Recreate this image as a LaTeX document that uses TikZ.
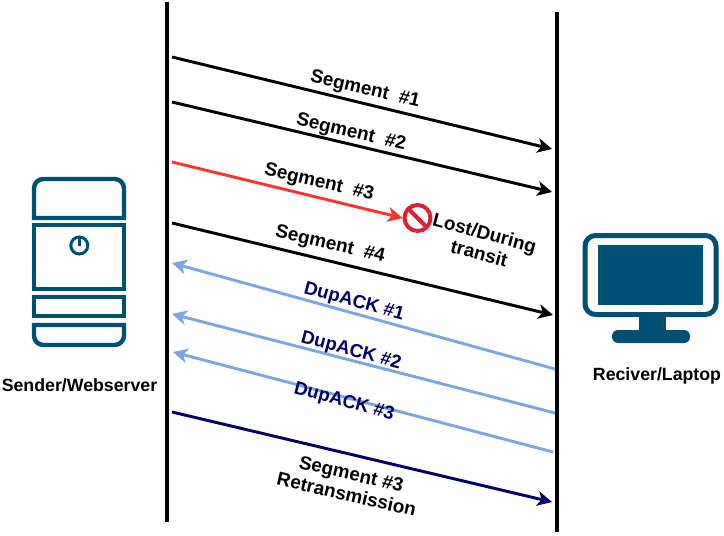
\documentclass[tikz,border=0pt]{standalone}
\usepackage{fontspec}
\usepackage{xcolor}
\setmainfont{Liberation Sans}
\usetikzlibrary{arrows.meta,positioning}
\definecolor{icon}{HTML}{005073}
\definecolor{lost}{HTML}{FF3333}
\definecolor{stopred}{HTML}{DD2233}
\definecolor{dupack}{HTML}{7EA6E0}
\definecolor{navy}{HTML}{000066}
\tikzstyle{lifeline} = [line width=2.7pt]
\tikzstyle{arrow} = [line width=2.2pt,-{Stealth[length=11pt,width=11pt,inset=3pt]}]
\tikzstyle{segment} = [arrow, black]
\tikzstyle{lostseg} = [arrow, lost]
\tikzstyle{dup} = [arrow, dupack]
\tikzstyle{retrans} = [arrow, navy]
\tikzstyle{seglabel} = [font=\fontsize{14.2}{15.8}\selectfont\bfseries, align=center, inner sep=0pt]
\tikzstyle{duplabel} = [font=\fontsize{14}{16}\selectfont\bfseries, text=navy, inner sep=0pt]
\tikzstyle{hostlabel} = [font=\fontsize{13.3}{15}\selectfont\bfseries, inner sep=0pt]
\tikzstyle{iconline} = [icon, line width=3.3pt]
\begin{document}
\begin{tikzpicture}[x=0.75pt,y=-0.75pt]
    \useasboundingbox (0,0) rectangle (724,535);

    % Lifelines
    \coordinate (sendertop) at (167,2);
    \coordinate (senderbot) at (167,522);
    \coordinate (recvtop) at (557,12);
    \coordinate (recvbot) at (557,532);
    \draw [lifeline] (sendertop) -- (senderbot);
    \draw [lifeline] (recvtop) -- (recvbot);

    % Segment end points
    \coordinate (s1a) at (172,57);
    \coordinate (s1b) at (552,149);
    \coordinate (s2a) at (172,102);
    \coordinate (s2b) at (552,192);
    \coordinate (s3a) at (172,162);
    \coordinate (s4a) at (172,223);
    \coordinate (s4b) at (553,315);
    \coordinate (d1a) at (555,369);
    \coordinate (d1b) at (172,263);
    \coordinate (d2a) at (555,413);
    \coordinate (d2b) at (172,314);
    \coordinate (d3a) at (553,452);
    \coordinate (d3b) at (173,352);
    \coordinate (r3a) at (172,412);
    \coordinate (r3b) at (552,502);

    % Lost marker
    \node [circle, draw=stopred, line width=3pt, minimum size=19.5pt, inner sep=0pt] (stop) at (417.5,218) {};

    % Connections
    \draw [segment] (s1a) -- (s1b);
    \draw [segment] (s2a) -- (s2b);
    \draw [lostseg] (s3a) -- (stop.west);
    \draw [segment] (s4a) -- (s4b);
    \draw [dup] (d1a) -- (d1b);
    \draw [dup] (d2a) -- (d2b);
    \draw [dup] (d3a) -- (d3b);
    \draw [retrans] (r3a) -- (r3b);
    \draw [stopred, line width=3pt] (stop.north west) -- (stop.south east);

    % Labels
    \node [seglabel, rotate=-13] (l1) at (365,90) {Segment~~\#1};
    \node [seglabel, rotate=-13] (l2) at (351,133) {Segment~~\#2};
    \node [seglabel, rotate=-13] (l3) at (319,183) {Segment~~\#3};
    \node [seglabel, rotate=-13] (l4) at (330,245) {Segment~~\#4};
    \node [seglabel, rotate=-15] (lost) at (482,243) {Lost/During\\transit};
    \node [duplabel, rotate=-15] (a1) at (354,302) {DupACK \#1};
    \node [duplabel, rotate=-15] (a2) at (351,351) {DupACK \#2};
    \node [duplabel, rotate=-15] (a3) at (344,402) {DupACK \#3};
    \node [seglabel, rotate=-13] (l5) at (349,484) {Segment \#3\\Retransmission};

    % Webserver icon
    \draw [iconline] (34,218) [rounded corners=7pt] -- (34,179) -- (124,179) [sharp corners] -- (124,218) -- cycle;
    \draw [iconline] (34,225) rectangle (124,289);
    \draw [iconline] (34,297) rectangle (124,316);
    \draw [iconline] (34,325) [rounded corners=7pt] -- (34,345) -- (124,345) [sharp corners] -- (124,325) -- cycle;
    \draw [iconline, line width=2.25pt] (79.3,245.5) circle (8.5);
    \draw [iconline, line width=1.8pt] (79.3,245.5) -- (79.3,236.5);
    \node [hostlabel] (sender) at (79.5,385) {Sender/Webserver};

    % Laptop icon
    \draw [icon, line width=3.75pt, rounded corners=8pt] (585,235.5) rectangle (716,314.5);
    \fill [icon] (598,245) rectangle (703,305);
    \fill [icon] (639,317) rectangle (666,335);
    \fill [icon, rounded corners=4.5pt] (612,330) rectangle (690,343);
    \node [hostlabel] (laptop) at (657,376) {Reciver/Laptop};
\end{tikzpicture}
\end{document}
